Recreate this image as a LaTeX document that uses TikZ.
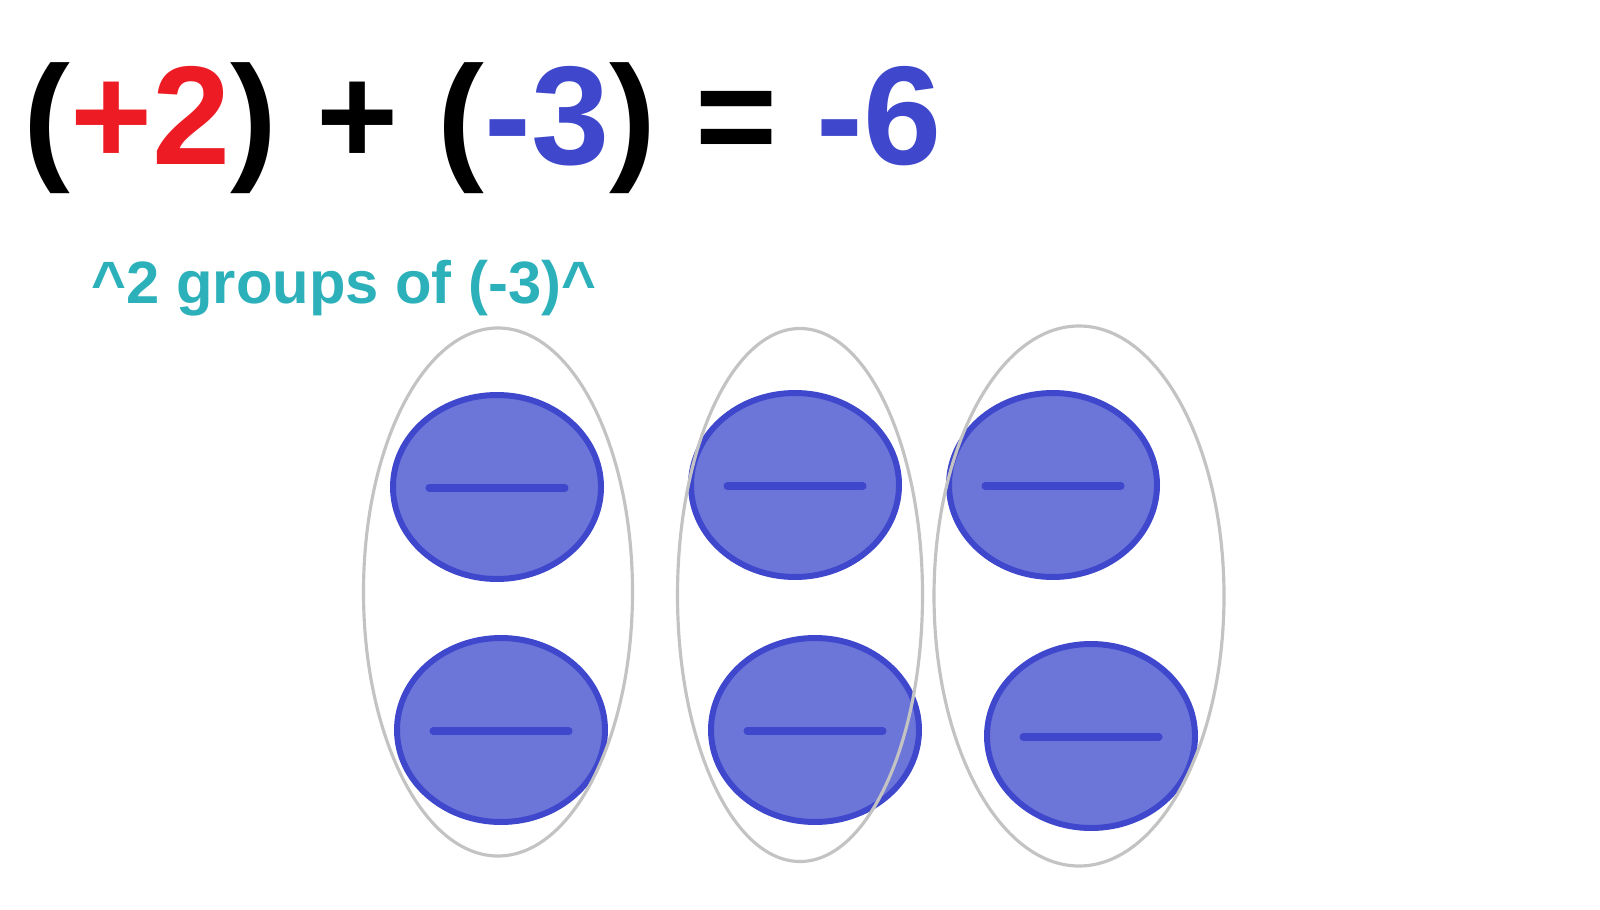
\documentclass[tikz,border=0pt]{standalone}
\usepackage{fontspec}
\setmainfont{Liberation Sans}
\usetikzlibrary{shapes.geometric}
\definecolor{plusred}{HTML}{ED1C24}
\definecolor{minusblue}{HTML}{3F48CC}
\definecolor{counterfill}{HTML}{6C75D8}
\definecolor{groupteal}{HTML}{2CB0BA}
\definecolor{ringgray}{HTML}{C3C3C3}
\tikzset{
  counter/.style={ellipse, draw=minusblue, fill=counterfill, line width=1.7pt,
    minimum width=2.08cm, minimum height=1.84cm, inner sep=0pt},
  minusbar/.style={draw=minusblue, line width=2pt, line cap=round},
  group/.style={ellipse, draw=ringgray, line width=0.9pt, inner sep=0pt}
}
\begin{document}
\begin{tikzpicture}
  \useasboundingbox (0,0) rectangle (16,9.09);

  % Equation
  \node[anchor=base west, inner sep=0pt, font=\bfseries\fontsize{40}{48}\selectfont]
    (sum) at (0.23,7.44)
    {(\textcolor{plusred}{+2}) + (\textcolor{minusblue}{-3}) = \textcolor{minusblue}{-6}};

  % Caption
  \node[anchor=base west, inner sep=0pt, text=groupteal,
    font=\bfseries\fontsize{17}{20}\selectfont]
    (caption) at (0.91,6.05) {\textasciicircum2 groups of (-3)\textasciicircum};

  % Negative counters
  \node[counter] (c1a) at (4.97,4.22) {};
  \node[counter] (c1b) at (5.01,1.79) {};
  \node[counter] (c2a) at (7.95,4.24) {};
  \node[counter] (c2b) at (8.15,1.79) {};
  \node[counter] (c3a) at (10.53,4.24) {};
  \node[counter] (c3b) at (10.91,1.73) {};

  % Minus signs
  \foreach \c in {c1a,c1b,c2a,c2b,c3a,c3b}
    \draw[minusbar] ([xshift=-0.68cm,yshift=-0.01cm]\c.center)
      -- ([xshift=0.68cm,yshift=-0.01cm]\c.center);

  % Groups
  \node[group, minimum width=2.69cm, minimum height=5.28cm] (g1) at (4.98,3.17) {};
  \node[group, minimum width=2.45cm, minimum height=5.33cm] (g2) at (8.00,3.14) {};
  \node[group, minimum width=2.90cm, minimum height=5.40cm] (g3) at (10.79,3.13) {};

\end{tikzpicture}
\end{document}
